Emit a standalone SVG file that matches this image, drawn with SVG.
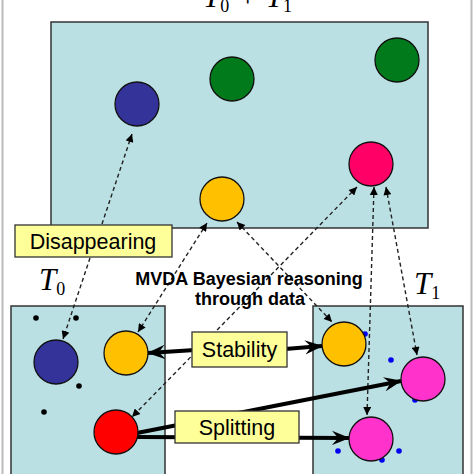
<svg xmlns="http://www.w3.org/2000/svg" width="474" height="474" viewBox="0 0 474 474">
<style>
.panel{fill:#BBE0E3;stroke:#333;stroke-width:1.5}
.lbl{fill:#FFFF99;stroke:#333;stroke-width:1.3}
.lt{font-family:"Liberation Sans",Arial,sans-serif;font-size:21.5px;fill:#000;text-anchor:middle}
.mv{font-family:"Liberation Sans",Arial,sans-serif;font-size:18px;font-weight:bold;fill:#000;text-anchor:middle}
.tt{font-family:"Liberation Serif","Times New Roman",serif;font-size:31px;font-style:italic;fill:#000}
.sub{font-style:normal;font-size:18px}
.c{stroke:#111;stroke-width:1.3}
.dash{fill:none;stroke:#222;stroke-width:1.4;stroke-dasharray:4 3}
.thick{fill:none;stroke:#000;stroke-width:4}
.dot{fill:#000}
.bdot{fill:#0000EE}
</style>
<defs>
<marker id="ah" viewBox="0 0 10 10" refX="10" refY="5" markerWidth="9" markerHeight="8" markerUnits="userSpaceOnUse" orient="auto-start-reverse">
<path d="M0,0 L10,5 L0,10 Z" fill="#000"/>
</marker>
<marker id="bh" viewBox="0 0 20 16" refX="19" refY="8" markerWidth="18" markerHeight="15" markerUnits="userSpaceOnUse" orient="auto">
<path d="M0,0 L20,8 L0,16 L7,8 Z" fill="#000"/>
</marker>
</defs>
<rect x="0" y="0" width="474" height="474" fill="#fff"/>
<line x1="2.5" y1="0" x2="2.5" y2="474" stroke="#bbb" stroke-width="2"/>
<line x1="471.5" y1="0" x2="471.5" y2="474" stroke="#bbb" stroke-width="2"/>

<g id="title">
<text class="tt" x="203" y="7">T<tspan class="sub" dy="5">0</tspan><tspan dy="-5"> + T</tspan><tspan class="sub" dy="5">1</tspan></text>
</g>
<g id="panel-top"><rect class="panel" x="51" y="22" width="377" height="206"/></g>
<g id="panel-t0"><rect class="panel" x="11" y="306" width="154" height="180"/></g>
<g id="panel-t1"><rect class="panel" x="313" y="306" width="150" height="180"/></g>
<g id="label-t0"><text class="tt" x="39" y="290">T<tspan class="sub" dy="5">0</tspan></text></g>
<g id="label-t1"><text class="tt" x="414" y="294">T<tspan class="sub" dy="5">1</tspan></text></g>

<g id="dots">
<circle class="dot" cx="36" cy="318" r="2.8"/>
<circle class="dot" cx="76" cy="318" r="2.8"/>
<circle class="dot" cx="79" cy="386" r="2.8"/>
<circle class="dot" cx="44" cy="412" r="2.8"/>
<circle class="bdot" cx="365" cy="334" r="2.8"/>
<circle class="bdot" cx="391" cy="360" r="2.8"/>
<circle class="bdot" cx="415" cy="400" r="2.8"/>
<circle class="bdot" cx="338" cy="451" r="2.8"/>
<circle class="bdot" cx="399" cy="451" r="2.8"/>
<circle class="bdot" cx="382" cy="460" r="2.8"/>
</g>

<g id="connectors">
<line class="dash" x1="102" y1="224" x2="132" y2="134" marker-end="url(#ah)"/>
<line class="dash" x1="90" y1="258" x2="63" y2="339" marker-end="url(#ah)"/>
<line class="dash" x1="207" y1="223" x2="138" y2="332" marker-start="url(#ah)" marker-end="url(#ah)"/>
<line class="dash" x1="237" y1="222" x2="332" y2="322" marker-start="url(#ah)" marker-end="url(#ah)"/>
<line class="dash" x1="357" y1="187" x2="132" y2="417" marker-start="url(#ah)" marker-end="url(#ah)"/>
<line class="dash" x1="374" y1="187" x2="367" y2="415" marker-start="url(#ah)" marker-end="url(#ah)"/>
<line class="dash" x1="386" y1="187" x2="417" y2="355" marker-start="url(#ah)" marker-end="url(#ah)"/>
<line class="thick" x1="195" y1="350" x2="148" y2="353" marker-end="url(#bh)"/>
<line class="thick" x1="285" y1="349" x2="322" y2="346" marker-end="url(#bh)"/>
<line class="thick" x1="137" y1="433" x2="401" y2="381" marker-end="url(#bh)"/>
<line class="thick" x1="137" y1="437" x2="349" y2="438" marker-end="url(#bh)"/>
</g>

<g id="blue-top"><circle class="c" cx="137" cy="104" r="22" fill="#333399"/></g>
<g id="green-1"><circle class="c" cx="232" cy="79" r="22" fill="#007A1A"/></g>
<g id="green-2"><circle class="c" cx="397" cy="60" r="22" fill="#007A1A"/></g>
<g id="pink-top"><circle class="c" cx="371" cy="164" r="22" fill="#FF0066"/></g>
<g id="orange-top"><circle class="c" cx="222" cy="199" r="22" fill="#FFC000"/></g>
<g id="navy-t0"><circle class="c" cx="56" cy="362" r="22" fill="#333399"/></g>
<g id="orange-t0"><circle class="c" cx="126" cy="353" r="22" fill="#FFC000"/></g>
<g id="red-t0"><circle class="c" cx="116" cy="432" r="22" fill="#FF0000"/></g>
<g id="orange-t1"><circle class="c" cx="344" cy="344" r="22" fill="#FFC000"/></g>
<g id="magenta-t1a"><circle class="c" cx="423" cy="379" r="22" fill="#FF33CC"/></g>
<g id="magenta-t1b"><circle class="c" cx="371" cy="439" r="22" fill="#FF33CC"/></g>

<g id="disappearing"><rect class="lbl" x="15" y="225" width="157" height="32"/><text class="lt" x="93" y="249">Disappearing</text></g>
<g id="stability"><rect class="lbl" x="192" y="332" width="95" height="35"/><text class="lt" x="239.5" y="357">Stability</text></g>
<g id="splitting"><rect class="lbl" x="175" y="411" width="124" height="32"/><text class="lt" x="237" y="435">Splitting</text></g>
<g id="mvda"><text class="mv" x="249" y="285">MVDA Bayesian reasoning</text><text class="mv" x="250" y="305">through data</text></g>
</svg>
